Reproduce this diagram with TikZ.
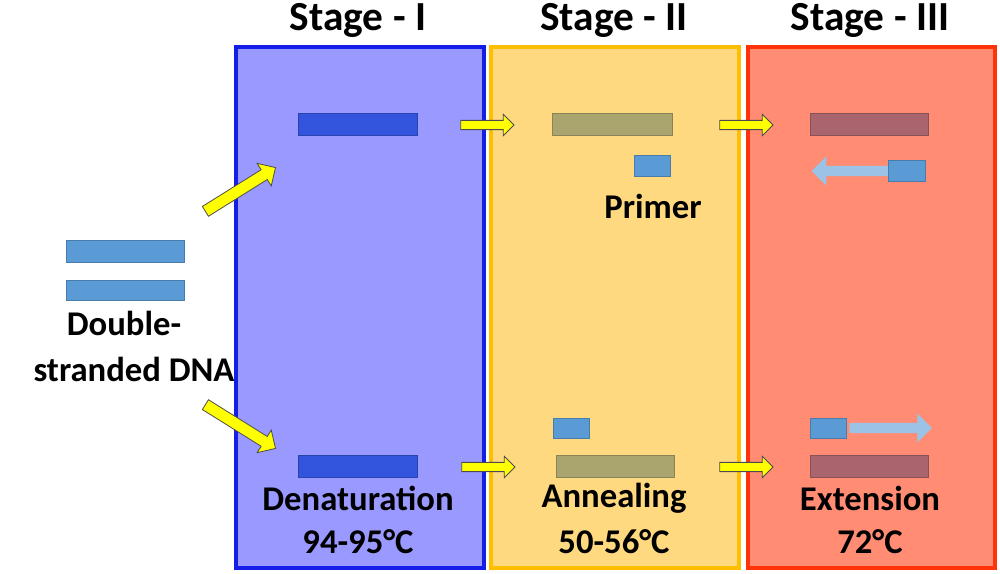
\documentclass[tikz,border=0pt]{standalone}
\usepackage{fontspec}
\setmainfont{Carlito}
\usetikzlibrary{shapes.arrows}
\definecolor{bIf}{RGB}{153,153,255}\definecolor{bIb}{RGB}{20,30,230}
\definecolor{bIIf}{RGB}{255,217,128}\definecolor{bIIb}{RGB}{255,190,0}
\definecolor{bIIIf}{RGB}{255,140,115}\definecolor{bIIIb}{RGB}{255,50,10}
\definecolor{dna}{RGB}{91,155,213}\definecolor{dnab}{RGB}{60,110,170}
\definecolor{sI}{RGB}{51,85,221}\definecolor{sII}{RGB}{170,165,110}\definecolor{sIII}{RGB}{170,100,110}
\definecolor{ylw}{RGB}{255,255,0}\definecolor{lb}{RGB}{155,195,230}
\begin{document}
\begin{tikzpicture}[x=0.75pt,y=-0.75pt,
 stage/.style={line width=2.4pt},
 lbl/.style={font=\bfseries\fontsize{26}{30}\selectfont,inner sep=0pt},
 ttl/.style={font=\bfseries\fontsize{31}{34}\selectfont,inner sep=0pt},
 yarr/.style={single arrow,draw=black!70,fill=ylw,line width=0.6pt,minimum height=#1,minimum width=20,single arrow head extend=3pt,inner sep=2pt,single arrow tip angle=90},
 strand/.style={draw=#1!80!black,fill=#1,line width=0.5pt}]
\useasboundingbox (0,0) rectangle (1000,574);
\draw[stage,draw=bIb,fill=bIf] (236,47) rectangle (484,568);
\draw[stage,draw=bIIb,fill=bIIf] (491,47) rectangle (739,568);
\draw[stage,draw=bIIIb,fill=bIIIf] (748,47) rectangle (995,568);
\node[ttl] (t1) at (358,20) {Stage - I};
\node[ttl] (t2) at (614,20) {Stage - II};
\node[ttl] (t3) at (870,20) {Stage - III};
% left DNA
\draw[strand=dna] (66,240) rectangle (184,262);
\draw[strand=dna] (66,280) rectangle (184,300);
\node[lbl] (d1) at (124,323) {Double-};
\node[lbl] (d2) at (134,369) {stranded DNA};
% big arrows
\node[yarr=62,rotate=32] (a1) at (238,191) {};
\node[yarr=62,rotate=-32] (a2) at (238,425) {};
% stage I
\draw[strand=sI] (298,113) rectangle (417,135);
\draw[strand=sI] (298,455) rectangle (417,477);
\node[lbl] (l1) at (358,498) {Denaturation};
\node[lbl] (l1b) at (358,542) {94-95°C};
% small arrows
\node[yarr=40,minimum width=16] (h1) at (485,125) {};
\node[yarr=40,minimum width=16] (h2) at (486,467) {};
\node[yarr=40,minimum width=16] (h3) at (744,125) {};
\node[yarr=40,minimum width=16] (h4) at (744,467) {};
% stage II
\draw[strand=sII] (552,113) rectangle (672,135);
\draw[strand=sII] (556,455) rectangle (674,477);
\draw[strand=dna] (634,155) rectangle (670,176);
\draw[strand=dna] (553,418) rectangle (589,438);
\node[lbl] (p) at (653,206) {Primer};
\node[lbl] (l2) at (614,498) {Annealing};
\node[lbl] (l2b) at (614,542) {50-56°C};
% stage III
\node[single arrow,fill=lb,minimum height=58,minimum width=22,single arrow head extend=4pt,inner sep=2pt,shape border rotate=180] (e1) at (853,171) {};
\draw[strand=dna] (888,160) rectangle (925,181);
\node[single arrow,fill=lb,minimum height=62,minimum width=22,single arrow head extend=4pt,inner sep=2pt] (e2) at (888,428) {};
\draw[strand=dna] (810,418) rectangle (846,438);
\draw[strand=sIII] (810,113) rectangle (928,135);
\draw[strand=sIII] (810,455) rectangle (928,477);
\node[lbl] (l3) at (870,498) {Extension};
\node[lbl] (l3b) at (870,542) {72°C};
\end{tikzpicture}
\end{document}
